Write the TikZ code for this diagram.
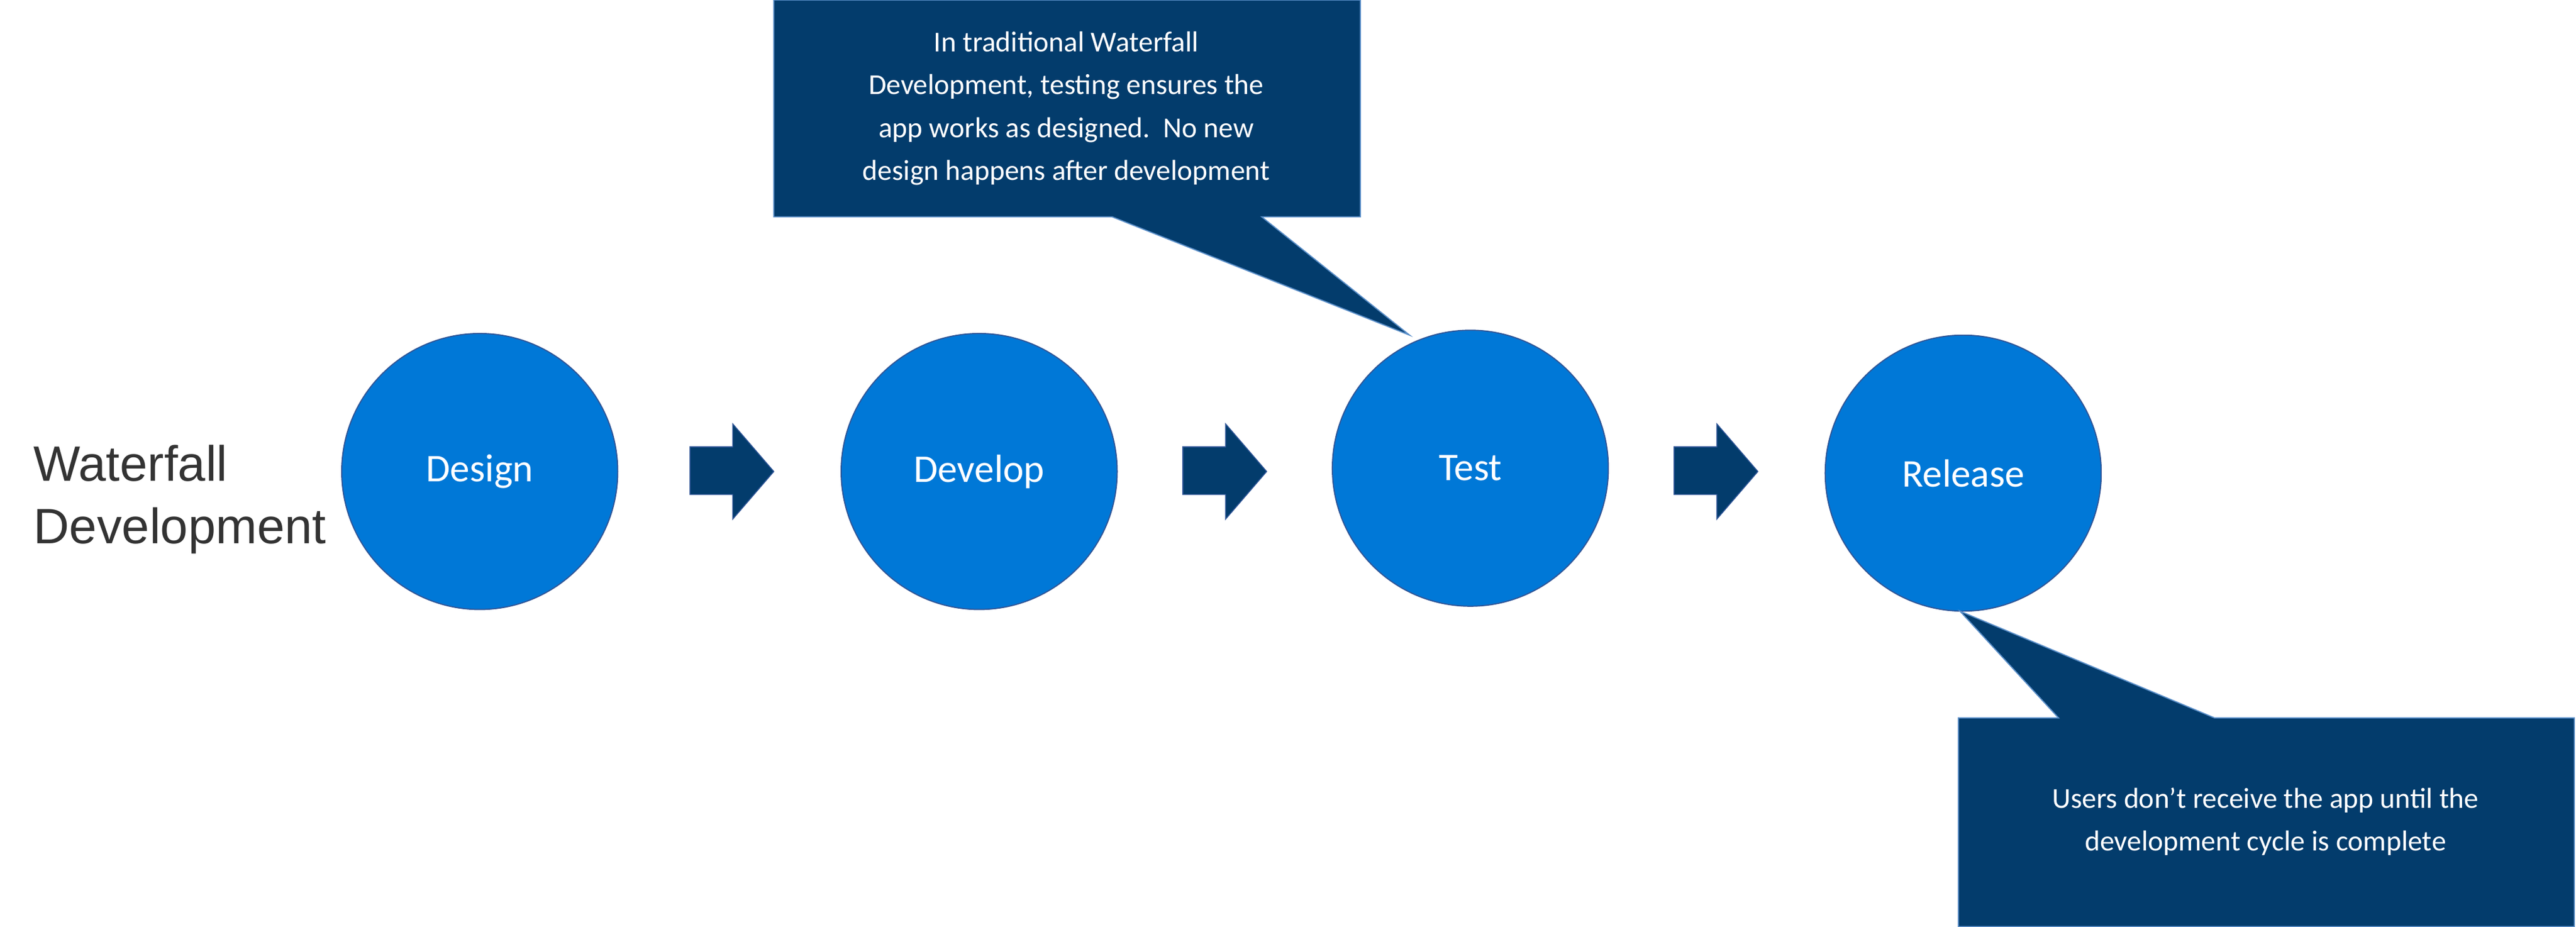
\documentclass[tikz,border=0pt]{standalone}
\usepackage{fontspec}
\setmainfont{Carlito}
\newfontfamily\arialf{Liberation Sans}
\definecolor{circ}{HTML}{0078D7}
\definecolor{circb}{HTML}{2F5597}
\definecolor{call}{HTML}{033C6C}
\definecolor{callb}{HTML}{5B8FC9}
\begin{document}
\begin{tikzpicture}[x=0.5mm,y=-0.5mm,
  stage/.style={circle,minimum size=168*0.5mm,fill=circ,draw=circb,line width=1pt,text=white,font=\fontsize{34}{40}\selectfont},
  callbox/.style={fill=call,draw=callb,line width=1pt},
  ctext/.style={text=white,align=center,font=\fontsize{25}{37}\selectfont},
  blk/.style={fill=call,draw=circb,line width=0.8pt}]
\useasboundingbox (0,0) rectangle (1568,564);
\node[stage] (design) at (292,287) {Design};
\node[stage] (develop) at (596,287) {Develop};
\node[stage] (test) at (895,285) {Test};
\node[stage] (release) at (1195,288) {Release};
\node[anchor=west,align=left,text=black!80,font=\arialf\fontsize{43}{54}\selectfont] (wf) at (18,304) {Waterfall\\Development};
\foreach \x/\n in {420/a1,720/a2,1019/a3}{
  \draw[blk] (\x,272) -- (\x+26,272) -- (\x+26,258) -- (\x+51,287) -- (\x+26,316) -- (\x+26,301) -- (\x,301) -- cycle;
  \coordinate (\n) at (\x,287);
}
\coordinate (t1) at (858,204);
\draw[callbox] (471,0) -- (828,0) -- (828,132) -- (768,132) -- (t1) -- (677,132) -- (471,132) -- cycle;
\node[ctext] (c1) at (649,66) {In traditional Waterfall\\Development, testing ensures the\\app works as designed.\ \ No new\\design happens after development};
\coordinate (t2) at (1193,372);
\draw[callbox] (1192,437) -- (1253,437) -- (t2) -- (1348,437) -- (1567,437) -- (1567,564) -- (1192,564) -- cycle;
\node[ctext] (c2) at (1379,500) {Users don’t receive the app until the\\development cycle is complete};
\end{tikzpicture}
\end{document}
